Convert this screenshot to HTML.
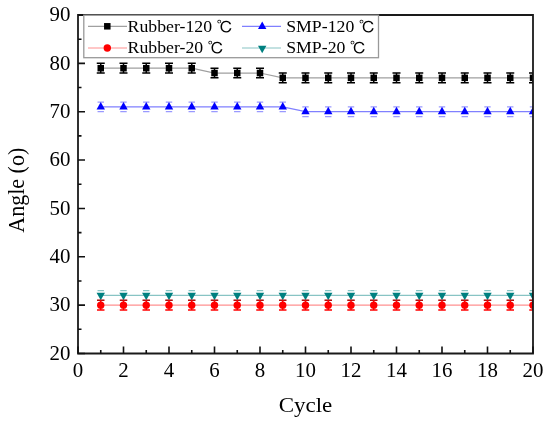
<!DOCTYPE html>
<html><head><meta charset="utf-8"><style>
html,body{margin:0;padding:0;background:#fff;}
svg{display:block;}
text{font-family:"Liberation Serif","Noto Serif CJK SC",serif;fill:#000;}
.deg{font-family:"IPAGothic","Noto Sans CJK JP",sans-serif;font-size:16px;}
</style></head><body>
<svg width="550" height="423" viewBox="0 0 550 423">
<rect width="550" height="423" fill="#fff"/>
<defs><clipPath id="c"><rect x="78.00" y="15.00" width="455.00" height="338.50"/></clipPath></defs>

<g clip-path="url(#c)">
<polyline points="100.75,68.19 123.50,68.19 146.25,68.19 169.00,68.19 191.75,68.19 214.50,73.03 237.25,73.03 260.00,73.03 282.75,77.86 305.50,77.86 328.25,77.86 351.00,77.86 373.75,77.86 396.50,77.86 419.25,77.86 442.00,77.86 464.75,77.86 487.50,77.86 510.25,77.86 533.00,77.86" fill="none" stroke="#a0a0a0" stroke-width="1.2"/>
<path d="M96.75 73.03H104.75M96.75 63.36H104.75M100.75 63.36V73.03" stroke="#000" stroke-width="1.50" fill="none"/>
<rect x="97.50" y="64.94" width="6.5" height="6.5" fill="#000"/>
<path d="M119.50 73.03H127.50M119.50 63.36H127.50M123.50 63.36V73.03" stroke="#000" stroke-width="1.50" fill="none"/>
<rect x="120.25" y="64.94" width="6.5" height="6.5" fill="#000"/>
<path d="M142.25 73.03H150.25M142.25 63.36H150.25M146.25 63.36V73.03" stroke="#000" stroke-width="1.50" fill="none"/>
<rect x="143.00" y="64.94" width="6.5" height="6.5" fill="#000"/>
<path d="M165.00 73.03H173.00M165.00 63.36H173.00M169.00 63.36V73.03" stroke="#000" stroke-width="1.50" fill="none"/>
<rect x="165.75" y="64.94" width="6.5" height="6.5" fill="#000"/>
<path d="M187.75 73.03H195.75M187.75 63.36H195.75M191.75 63.36V73.03" stroke="#000" stroke-width="1.50" fill="none"/>
<rect x="188.50" y="64.94" width="6.5" height="6.5" fill="#000"/>
<path d="M210.50 77.86H218.50M210.50 68.19H218.50M214.50 68.19V77.86" stroke="#000" stroke-width="1.50" fill="none"/>
<rect x="211.25" y="69.78" width="6.5" height="6.5" fill="#000"/>
<path d="M233.25 77.86H241.25M233.25 68.19H241.25M237.25 68.19V77.86" stroke="#000" stroke-width="1.50" fill="none"/>
<rect x="234.00" y="69.78" width="6.5" height="6.5" fill="#000"/>
<path d="M256.00 77.86H264.00M256.00 68.19H264.00M260.00 68.19V77.86" stroke="#000" stroke-width="1.50" fill="none"/>
<rect x="256.75" y="69.78" width="6.5" height="6.5" fill="#000"/>
<path d="M278.75 82.70H286.75M278.75 73.03H286.75M282.75 73.03V82.70" stroke="#000" stroke-width="1.50" fill="none"/>
<rect x="279.50" y="74.61" width="6.5" height="6.5" fill="#000"/>
<path d="M301.50 82.70H309.50M301.50 73.03H309.50M305.50 73.03V82.70" stroke="#000" stroke-width="1.50" fill="none"/>
<rect x="302.25" y="74.61" width="6.5" height="6.5" fill="#000"/>
<path d="M324.25 82.70H332.25M324.25 73.03H332.25M328.25 73.03V82.70" stroke="#000" stroke-width="1.50" fill="none"/>
<rect x="325.00" y="74.61" width="6.5" height="6.5" fill="#000"/>
<path d="M347.00 82.70H355.00M347.00 73.03H355.00M351.00 73.03V82.70" stroke="#000" stroke-width="1.50" fill="none"/>
<rect x="347.75" y="74.61" width="6.5" height="6.5" fill="#000"/>
<path d="M369.75 82.70H377.75M369.75 73.03H377.75M373.75 73.03V82.70" stroke="#000" stroke-width="1.50" fill="none"/>
<rect x="370.50" y="74.61" width="6.5" height="6.5" fill="#000"/>
<path d="M392.50 82.70H400.50M392.50 73.03H400.50M396.50 73.03V82.70" stroke="#000" stroke-width="1.50" fill="none"/>
<rect x="393.25" y="74.61" width="6.5" height="6.5" fill="#000"/>
<path d="M415.25 82.70H423.25M415.25 73.03H423.25M419.25 73.03V82.70" stroke="#000" stroke-width="1.50" fill="none"/>
<rect x="416.00" y="74.61" width="6.5" height="6.5" fill="#000"/>
<path d="M438.00 82.70H446.00M438.00 73.03H446.00M442.00 73.03V82.70" stroke="#000" stroke-width="1.50" fill="none"/>
<rect x="438.75" y="74.61" width="6.5" height="6.5" fill="#000"/>
<path d="M460.75 82.70H468.75M460.75 73.03H468.75M464.75 73.03V82.70" stroke="#000" stroke-width="1.50" fill="none"/>
<rect x="461.50" y="74.61" width="6.5" height="6.5" fill="#000"/>
<path d="M483.50 82.70H491.50M483.50 73.03H491.50M487.50 73.03V82.70" stroke="#000" stroke-width="1.50" fill="none"/>
<rect x="484.25" y="74.61" width="6.5" height="6.5" fill="#000"/>
<path d="M506.25 82.70H514.25M506.25 73.03H514.25M510.25 73.03V82.70" stroke="#000" stroke-width="1.50" fill="none"/>
<rect x="507.00" y="74.61" width="6.5" height="6.5" fill="#000"/>
<path d="M529.00 82.70H537.00M529.00 73.03H537.00M533.00 73.03V82.70" stroke="#000" stroke-width="1.50" fill="none"/>
<rect x="529.75" y="74.61" width="6.5" height="6.5" fill="#000"/>
</g>
<g clip-path="url(#c)">
<polyline points="100.75,106.88 123.50,106.88 146.25,106.88 169.00,106.88 191.75,106.88 214.50,106.88 237.25,106.88 260.00,106.88 282.75,106.88 305.50,111.71 328.25,111.71 351.00,111.71 373.75,111.71 396.50,111.71 419.25,111.71 442.00,111.71 464.75,111.71 487.50,111.71 510.25,111.71 533.00,111.71" fill="none" stroke="#8080ff" stroke-width="1.2"/>
<path d="M97.55 111.71H103.95M97.55 102.04H103.95" stroke="#9999ff" stroke-width="1.30" fill="none"/>
<path d="M100.75 101.98L104.95 109.48L96.55 109.48Z" fill="#0000ff"/>
<path d="M120.30 111.71H126.70M120.30 102.04H126.70" stroke="#9999ff" stroke-width="1.30" fill="none"/>
<path d="M123.50 101.98L127.70 109.48L119.30 109.48Z" fill="#0000ff"/>
<path d="M143.05 111.71H149.45M143.05 102.04H149.45" stroke="#9999ff" stroke-width="1.30" fill="none"/>
<path d="M146.25 101.98L150.45 109.48L142.05 109.48Z" fill="#0000ff"/>
<path d="M165.80 111.71H172.20M165.80 102.04H172.20" stroke="#9999ff" stroke-width="1.30" fill="none"/>
<path d="M169.00 101.98L173.20 109.48L164.80 109.48Z" fill="#0000ff"/>
<path d="M188.55 111.71H194.95M188.55 102.04H194.95" stroke="#9999ff" stroke-width="1.30" fill="none"/>
<path d="M191.75 101.98L195.95 109.48L187.55 109.48Z" fill="#0000ff"/>
<path d="M211.30 111.71H217.70M211.30 102.04H217.70" stroke="#9999ff" stroke-width="1.30" fill="none"/>
<path d="M214.50 101.98L218.70 109.48L210.30 109.48Z" fill="#0000ff"/>
<path d="M234.05 111.71H240.45M234.05 102.04H240.45" stroke="#9999ff" stroke-width="1.30" fill="none"/>
<path d="M237.25 101.98L241.45 109.48L233.05 109.48Z" fill="#0000ff"/>
<path d="M256.80 111.71H263.20M256.80 102.04H263.20" stroke="#9999ff" stroke-width="1.30" fill="none"/>
<path d="M260.00 101.98L264.20 109.48L255.80 109.48Z" fill="#0000ff"/>
<path d="M279.55 111.71H285.95M279.55 102.04H285.95" stroke="#9999ff" stroke-width="1.30" fill="none"/>
<path d="M282.75 101.98L286.95 109.48L278.55 109.48Z" fill="#0000ff"/>
<path d="M302.30 116.55H308.70M302.30 106.88H308.70" stroke="#9999ff" stroke-width="1.30" fill="none"/>
<path d="M305.50 106.81L309.70 114.31L301.30 114.31Z" fill="#0000ff"/>
<path d="M325.05 116.55H331.45M325.05 106.88H331.45" stroke="#9999ff" stroke-width="1.30" fill="none"/>
<path d="M328.25 106.81L332.45 114.31L324.05 114.31Z" fill="#0000ff"/>
<path d="M347.80 116.55H354.20M347.80 106.88H354.20" stroke="#9999ff" stroke-width="1.30" fill="none"/>
<path d="M351.00 106.81L355.20 114.31L346.80 114.31Z" fill="#0000ff"/>
<path d="M370.55 116.55H376.95M370.55 106.88H376.95" stroke="#9999ff" stroke-width="1.30" fill="none"/>
<path d="M373.75 106.81L377.95 114.31L369.55 114.31Z" fill="#0000ff"/>
<path d="M393.30 116.55H399.70M393.30 106.88H399.70" stroke="#9999ff" stroke-width="1.30" fill="none"/>
<path d="M396.50 106.81L400.70 114.31L392.30 114.31Z" fill="#0000ff"/>
<path d="M416.05 116.55H422.45M416.05 106.88H422.45" stroke="#9999ff" stroke-width="1.30" fill="none"/>
<path d="M419.25 106.81L423.45 114.31L415.05 114.31Z" fill="#0000ff"/>
<path d="M438.80 116.55H445.20M438.80 106.88H445.20" stroke="#9999ff" stroke-width="1.30" fill="none"/>
<path d="M442.00 106.81L446.20 114.31L437.80 114.31Z" fill="#0000ff"/>
<path d="M461.55 116.55H467.95M461.55 106.88H467.95" stroke="#9999ff" stroke-width="1.30" fill="none"/>
<path d="M464.75 106.81L468.95 114.31L460.55 114.31Z" fill="#0000ff"/>
<path d="M484.30 116.55H490.70M484.30 106.88H490.70" stroke="#9999ff" stroke-width="1.30" fill="none"/>
<path d="M487.50 106.81L491.70 114.31L483.30 114.31Z" fill="#0000ff"/>
<path d="M507.05 116.55H513.45M507.05 106.88H513.45" stroke="#9999ff" stroke-width="1.30" fill="none"/>
<path d="M510.25 106.81L514.45 114.31L506.05 114.31Z" fill="#0000ff"/>
<path d="M529.80 116.55H536.20M529.80 106.88H536.20" stroke="#9999ff" stroke-width="1.30" fill="none"/>
<path d="M533.00 106.81L537.20 114.31L528.80 114.31Z" fill="#0000ff"/>
</g>
<g clip-path="url(#c)">
<polyline points="100.75,295.47 123.50,295.47 146.25,295.47 169.00,295.47 191.75,295.47 214.50,295.47 237.25,295.47 260.00,295.47 282.75,295.47 305.50,295.47 328.25,295.47 351.00,295.47 373.75,295.47 396.50,295.47 419.25,295.47 442.00,295.47 464.75,295.47 487.50,295.47 510.25,295.47 533.00,295.47" fill="none" stroke="#88c4c4" stroke-width="1.2"/>
<path d="M97.55 300.31H103.95M97.55 290.64H103.95" stroke="#88c4c4" stroke-width="1.30" fill="none"/>
<path d="M100.75 300.37L104.95 292.87L96.55 292.87Z" fill="#008080"/>
<path d="M120.30 300.31H126.70M120.30 290.64H126.70" stroke="#88c4c4" stroke-width="1.30" fill="none"/>
<path d="M123.50 300.37L127.70 292.87L119.30 292.87Z" fill="#008080"/>
<path d="M143.05 300.31H149.45M143.05 290.64H149.45" stroke="#88c4c4" stroke-width="1.30" fill="none"/>
<path d="M146.25 300.37L150.45 292.87L142.05 292.87Z" fill="#008080"/>
<path d="M165.80 300.31H172.20M165.80 290.64H172.20" stroke="#88c4c4" stroke-width="1.30" fill="none"/>
<path d="M169.00 300.37L173.20 292.87L164.80 292.87Z" fill="#008080"/>
<path d="M188.55 300.31H194.95M188.55 290.64H194.95" stroke="#88c4c4" stroke-width="1.30" fill="none"/>
<path d="M191.75 300.37L195.95 292.87L187.55 292.87Z" fill="#008080"/>
<path d="M211.30 300.31H217.70M211.30 290.64H217.70" stroke="#88c4c4" stroke-width="1.30" fill="none"/>
<path d="M214.50 300.37L218.70 292.87L210.30 292.87Z" fill="#008080"/>
<path d="M234.05 300.31H240.45M234.05 290.64H240.45" stroke="#88c4c4" stroke-width="1.30" fill="none"/>
<path d="M237.25 300.37L241.45 292.87L233.05 292.87Z" fill="#008080"/>
<path d="M256.80 300.31H263.20M256.80 290.64H263.20" stroke="#88c4c4" stroke-width="1.30" fill="none"/>
<path d="M260.00 300.37L264.20 292.87L255.80 292.87Z" fill="#008080"/>
<path d="M279.55 300.31H285.95M279.55 290.64H285.95" stroke="#88c4c4" stroke-width="1.30" fill="none"/>
<path d="M282.75 300.37L286.95 292.87L278.55 292.87Z" fill="#008080"/>
<path d="M302.30 300.31H308.70M302.30 290.64H308.70" stroke="#88c4c4" stroke-width="1.30" fill="none"/>
<path d="M305.50 300.37L309.70 292.87L301.30 292.87Z" fill="#008080"/>
<path d="M325.05 300.31H331.45M325.05 290.64H331.45" stroke="#88c4c4" stroke-width="1.30" fill="none"/>
<path d="M328.25 300.37L332.45 292.87L324.05 292.87Z" fill="#008080"/>
<path d="M347.80 300.31H354.20M347.80 290.64H354.20" stroke="#88c4c4" stroke-width="1.30" fill="none"/>
<path d="M351.00 300.37L355.20 292.87L346.80 292.87Z" fill="#008080"/>
<path d="M370.55 300.31H376.95M370.55 290.64H376.95" stroke="#88c4c4" stroke-width="1.30" fill="none"/>
<path d="M373.75 300.37L377.95 292.87L369.55 292.87Z" fill="#008080"/>
<path d="M393.30 300.31H399.70M393.30 290.64H399.70" stroke="#88c4c4" stroke-width="1.30" fill="none"/>
<path d="M396.50 300.37L400.70 292.87L392.30 292.87Z" fill="#008080"/>
<path d="M416.05 300.31H422.45M416.05 290.64H422.45" stroke="#88c4c4" stroke-width="1.30" fill="none"/>
<path d="M419.25 300.37L423.45 292.87L415.05 292.87Z" fill="#008080"/>
<path d="M438.80 300.31H445.20M438.80 290.64H445.20" stroke="#88c4c4" stroke-width="1.30" fill="none"/>
<path d="M442.00 300.37L446.20 292.87L437.80 292.87Z" fill="#008080"/>
<path d="M461.55 300.31H467.95M461.55 290.64H467.95" stroke="#88c4c4" stroke-width="1.30" fill="none"/>
<path d="M464.75 300.37L468.95 292.87L460.55 292.87Z" fill="#008080"/>
<path d="M484.30 300.31H490.70M484.30 290.64H490.70" stroke="#88c4c4" stroke-width="1.30" fill="none"/>
<path d="M487.50 300.37L491.70 292.87L483.30 292.87Z" fill="#008080"/>
<path d="M507.05 300.31H513.45M507.05 290.64H513.45" stroke="#88c4c4" stroke-width="1.30" fill="none"/>
<path d="M510.25 300.37L514.45 292.87L506.05 292.87Z" fill="#008080"/>
<path d="M529.80 300.31H536.20M529.80 290.64H536.20" stroke="#88c4c4" stroke-width="1.30" fill="none"/>
<path d="M533.00 300.37L537.20 292.87L528.80 292.87Z" fill="#008080"/>
</g>
<g clip-path="url(#c)">
<polyline points="100.75,305.14 123.50,305.14 146.25,305.14 169.00,305.14 191.75,305.14 214.50,305.14 237.25,305.14 260.00,305.14 282.75,305.14 305.50,305.14 328.25,305.14 351.00,305.14 373.75,305.14 396.50,305.14 419.25,305.14 442.00,305.14 464.75,305.14 487.50,305.14 510.25,305.14 533.00,305.14" fill="none" stroke="#ff9090" stroke-width="1.2"/>
<path d="M97.00 300.31H104.50" stroke="#b01010" stroke-width="1.50"/>
<path d="M97.00 309.98H104.50M100.75 300.31V309.98" stroke="#ff0000" stroke-width="1.50" fill="none"/>
<circle cx="100.75" cy="305.14" r="3.7" fill="#ff0000"/>
<path d="M119.75 300.31H127.25" stroke="#b01010" stroke-width="1.50"/>
<path d="M119.75 309.98H127.25M123.50 300.31V309.98" stroke="#ff0000" stroke-width="1.50" fill="none"/>
<circle cx="123.50" cy="305.14" r="3.7" fill="#ff0000"/>
<path d="M142.50 300.31H150.00" stroke="#b01010" stroke-width="1.50"/>
<path d="M142.50 309.98H150.00M146.25 300.31V309.98" stroke="#ff0000" stroke-width="1.50" fill="none"/>
<circle cx="146.25" cy="305.14" r="3.7" fill="#ff0000"/>
<path d="M165.25 300.31H172.75" stroke="#b01010" stroke-width="1.50"/>
<path d="M165.25 309.98H172.75M169.00 300.31V309.98" stroke="#ff0000" stroke-width="1.50" fill="none"/>
<circle cx="169.00" cy="305.14" r="3.7" fill="#ff0000"/>
<path d="M188.00 300.31H195.50" stroke="#b01010" stroke-width="1.50"/>
<path d="M188.00 309.98H195.50M191.75 300.31V309.98" stroke="#ff0000" stroke-width="1.50" fill="none"/>
<circle cx="191.75" cy="305.14" r="3.7" fill="#ff0000"/>
<path d="M210.75 300.31H218.25" stroke="#b01010" stroke-width="1.50"/>
<path d="M210.75 309.98H218.25M214.50 300.31V309.98" stroke="#ff0000" stroke-width="1.50" fill="none"/>
<circle cx="214.50" cy="305.14" r="3.7" fill="#ff0000"/>
<path d="M233.50 300.31H241.00" stroke="#b01010" stroke-width="1.50"/>
<path d="M233.50 309.98H241.00M237.25 300.31V309.98" stroke="#ff0000" stroke-width="1.50" fill="none"/>
<circle cx="237.25" cy="305.14" r="3.7" fill="#ff0000"/>
<path d="M256.25 300.31H263.75" stroke="#b01010" stroke-width="1.50"/>
<path d="M256.25 309.98H263.75M260.00 300.31V309.98" stroke="#ff0000" stroke-width="1.50" fill="none"/>
<circle cx="260.00" cy="305.14" r="3.7" fill="#ff0000"/>
<path d="M279.00 300.31H286.50" stroke="#b01010" stroke-width="1.50"/>
<path d="M279.00 309.98H286.50M282.75 300.31V309.98" stroke="#ff0000" stroke-width="1.50" fill="none"/>
<circle cx="282.75" cy="305.14" r="3.7" fill="#ff0000"/>
<path d="M301.75 300.31H309.25" stroke="#b01010" stroke-width="1.50"/>
<path d="M301.75 309.98H309.25M305.50 300.31V309.98" stroke="#ff0000" stroke-width="1.50" fill="none"/>
<circle cx="305.50" cy="305.14" r="3.7" fill="#ff0000"/>
<path d="M324.50 300.31H332.00" stroke="#b01010" stroke-width="1.50"/>
<path d="M324.50 309.98H332.00M328.25 300.31V309.98" stroke="#ff0000" stroke-width="1.50" fill="none"/>
<circle cx="328.25" cy="305.14" r="3.7" fill="#ff0000"/>
<path d="M347.25 300.31H354.75" stroke="#b01010" stroke-width="1.50"/>
<path d="M347.25 309.98H354.75M351.00 300.31V309.98" stroke="#ff0000" stroke-width="1.50" fill="none"/>
<circle cx="351.00" cy="305.14" r="3.7" fill="#ff0000"/>
<path d="M370.00 300.31H377.50" stroke="#b01010" stroke-width="1.50"/>
<path d="M370.00 309.98H377.50M373.75 300.31V309.98" stroke="#ff0000" stroke-width="1.50" fill="none"/>
<circle cx="373.75" cy="305.14" r="3.7" fill="#ff0000"/>
<path d="M392.75 300.31H400.25" stroke="#b01010" stroke-width="1.50"/>
<path d="M392.75 309.98H400.25M396.50 300.31V309.98" stroke="#ff0000" stroke-width="1.50" fill="none"/>
<circle cx="396.50" cy="305.14" r="3.7" fill="#ff0000"/>
<path d="M415.50 300.31H423.00" stroke="#b01010" stroke-width="1.50"/>
<path d="M415.50 309.98H423.00M419.25 300.31V309.98" stroke="#ff0000" stroke-width="1.50" fill="none"/>
<circle cx="419.25" cy="305.14" r="3.7" fill="#ff0000"/>
<path d="M438.25 300.31H445.75" stroke="#b01010" stroke-width="1.50"/>
<path d="M438.25 309.98H445.75M442.00 300.31V309.98" stroke="#ff0000" stroke-width="1.50" fill="none"/>
<circle cx="442.00" cy="305.14" r="3.7" fill="#ff0000"/>
<path d="M461.00 300.31H468.50" stroke="#b01010" stroke-width="1.50"/>
<path d="M461.00 309.98H468.50M464.75 300.31V309.98" stroke="#ff0000" stroke-width="1.50" fill="none"/>
<circle cx="464.75" cy="305.14" r="3.7" fill="#ff0000"/>
<path d="M483.75 300.31H491.25" stroke="#b01010" stroke-width="1.50"/>
<path d="M483.75 309.98H491.25M487.50 300.31V309.98" stroke="#ff0000" stroke-width="1.50" fill="none"/>
<circle cx="487.50" cy="305.14" r="3.7" fill="#ff0000"/>
<path d="M506.50 300.31H514.00" stroke="#b01010" stroke-width="1.50"/>
<path d="M506.50 309.98H514.00M510.25 300.31V309.98" stroke="#ff0000" stroke-width="1.50" fill="none"/>
<circle cx="510.25" cy="305.14" r="3.7" fill="#ff0000"/>
<path d="M529.25 300.31H536.75" stroke="#b01010" stroke-width="1.50"/>
<path d="M529.25 309.98H536.75M533.00 300.31V309.98" stroke="#ff0000" stroke-width="1.50" fill="none"/>
<circle cx="533.00" cy="305.14" r="3.7" fill="#ff0000"/>
</g>
<path d="M78.00 15.00H533.00V353.50H78.00Z" fill="none" stroke="#1a1a1a" stroke-width="1.8"/>
<path d="M78.00 353.50V346.50M100.75 353.50V350.00M123.50 353.50V346.50M146.25 353.50V350.00M169.00 353.50V346.50M191.75 353.50V350.00M214.50 353.50V346.50M237.25 353.50V350.00M260.00 353.50V346.50M282.75 353.50V350.00M305.50 353.50V346.50M328.25 353.50V350.00M351.00 353.50V346.50M373.75 353.50V350.00M396.50 353.50V346.50M419.25 353.50V350.00M442.00 353.50V346.50M464.75 353.50V350.00M487.50 353.50V346.50M510.25 353.50V350.00M533.00 353.50V346.50M78.00 353.50H85.00M78.00 329.32H81.50M78.00 305.14H85.00M78.00 280.96H81.50M78.00 256.79H85.00M78.00 232.61H81.50M78.00 208.43H85.00M78.00 184.25H81.50M78.00 160.07H85.00M78.00 135.89H81.50M78.00 111.71H85.00M78.00 87.54H81.50M78.00 63.36H85.00M78.00 39.18H81.50M78.00 15.00H85.00" stroke="#111" stroke-width="1.6" fill="none"/>
<text transform="translate(78.00 377.00) scale(1.045 1)" font-size="20" text-anchor="middle">0</text>
<text transform="translate(123.50 377.00) scale(1.045 1)" font-size="20" text-anchor="middle">2</text>
<text transform="translate(169.00 377.00) scale(1.045 1)" font-size="20" text-anchor="middle">4</text>
<text transform="translate(214.50 377.00) scale(1.045 1)" font-size="20" text-anchor="middle">6</text>
<text transform="translate(260.00 377.00) scale(1.045 1)" font-size="20" text-anchor="middle">8</text>
<text transform="translate(305.50 377.00) scale(1.045 1)" font-size="20" text-anchor="middle">10</text>
<text transform="translate(351.00 377.00) scale(1.045 1)" font-size="20" text-anchor="middle">12</text>
<text transform="translate(396.50 377.00) scale(1.045 1)" font-size="20" text-anchor="middle">14</text>
<text transform="translate(442.00 377.00) scale(1.045 1)" font-size="20" text-anchor="middle">16</text>
<text transform="translate(487.50 377.00) scale(1.045 1)" font-size="20" text-anchor="middle">18</text>
<text transform="translate(533.00 377.00) scale(1.045 1)" font-size="20" text-anchor="middle">20</text>
<text transform="translate(70.50 359.80) scale(1.045 1)" font-size="20" text-anchor="end">20</text>
<text transform="translate(70.50 311.44) scale(1.045 1)" font-size="20" text-anchor="end">30</text>
<text transform="translate(70.50 263.09) scale(1.045 1)" font-size="20" text-anchor="end">40</text>
<text transform="translate(70.50 214.73) scale(1.045 1)" font-size="20" text-anchor="end">50</text>
<text transform="translate(70.50 166.37) scale(1.045 1)" font-size="20" text-anchor="end">60</text>
<text transform="translate(70.50 118.01) scale(1.045 1)" font-size="20" text-anchor="end">70</text>
<text transform="translate(70.50 69.66) scale(1.045 1)" font-size="20" text-anchor="end">80</text>
<text transform="translate(70.50 21.30) scale(1.045 1)" font-size="20" text-anchor="end">90</text>
<text transform="translate(305.50 412.30) scale(1.045 1)" font-size="22" text-anchor="middle">Cycle</text>
<text transform="translate(24.40 190.20) scale(1.045 1) rotate(-90)" font-size="22" text-anchor="middle">Angle (o)</text>
<rect x="83.8" y="15.2" width="294.7" height="42.5" fill="#fff" stroke="#999" stroke-width="1.3"/>
<line x1="88" y1="26.3" x2="127" y2="26.3" stroke="#a0a0a0" stroke-width="1.2"/>
<rect x="104.05" y="23.05" width="6.5" height="6.5" fill="#000"/>
<line x1="88" y1="48" x2="127" y2="48" stroke="#ff9090" stroke-width="1.2"/>
<circle cx="107.30" cy="48.00" r="3.7" fill="#ff0000"/>
<line x1="242" y1="26.3" x2="281" y2="26.3" stroke="#8080ff" stroke-width="1.2"/>
<path d="M262.20 21.40L266.40 28.90L258.00 28.90Z" fill="#0000ff"/>
<line x1="242" y1="48" x2="281" y2="48" stroke="#88c4c4" stroke-width="1.2"/>
<path d="M262.20 53.20L266.40 45.70L258.00 45.70Z" fill="#008080"/>
<text transform="translate(127.60 31.90) scale(1.045 1)" font-size="17">Rubber-120 <tspan class="deg" dx="0.0" dy="0.8">℃</tspan></text>
<text transform="translate(127.60 53.30) scale(1.045 1)" font-size="17">Rubber-20 <tspan class="deg" dx="0.0" dy="0.8">℃</tspan></text>
<text transform="translate(286.20 31.90) scale(1.045 1)" font-size="17">SMP-120 <tspan class="deg" dx="0.0" dy="0.8">℃</tspan></text>
<text transform="translate(286.20 53.30) scale(1.045 1)" font-size="17">SMP-20 <tspan class="deg" dx="0.0" dy="0.8">℃</tspan></text>
</svg></body></html>
